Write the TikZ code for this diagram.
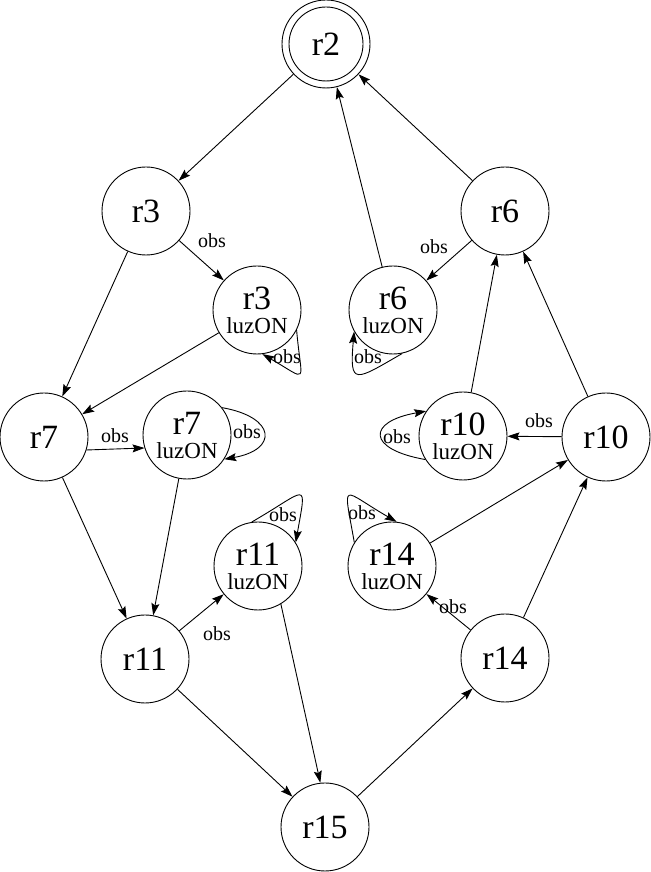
\documentclass[tikz,border=0pt]{standalone}
\usepackage{fontspec}
\setmainfont{Liberation Serif}
\usetikzlibrary{arrows.meta}

\newcommand{\stname}[1]{{\fontsize{34}{34}\selectfont #1}}

\begin{document}
\begin{tikzpicture}[x=1pt, y=1pt, line width=0.9pt,
   state/.style={draw, circle, minimum size=88pt, inner sep=0pt, font=\fontsize{34}{34}\selectfont},
   onstate/.style={draw, circle, minimum size=88pt, inner sep=0pt, align=center, font=\fontsize{23}{24}\selectfont},
   tr/.style={-{Stealth[length=12pt, width=8pt, inset=2pt]}},
   obs/.style={font=\fontsize{20}{20}\selectfont, inner sep=0pt}]
   \useasboundingbox (0,0) rectangle (650,872);

   % plain states
   \node [state] (r2) at (326,828) {r2};
   \draw (r2.center) circle [radius=37pt];
   \node [state] (r3) at (146,661) {r3};
   \node [state] (r6) at (505,661) {r6};
   \node [state] (r7) at (44,435) {r7};
   \node [state] (r10) at (606,435) {r10};
   \node [state] (r11) at (145,213) {r11};
   \node [state] (r14) at (505,214) {r14};
   \node [state] (r15) at (325,45) {r15};

   % states with the light on
   \node [onstate] (r3on) at (257,562) {\stname{r3}\\luzON};
   \node [onstate] (r6on) at (393,562) {\stname{r6}\\luzON};
   \node [onstate] (r7on) at (187,437) {\stname{r7}\\luzON};
   \node [onstate] (r10on) at (463,436) {\stname{r10}\\luzON};
   \node [onstate] (r11on) at (258,306) {\stname{r11}\\luzON};
   \node [onstate] (r14on) at (392,306) {\stname{r14}\\luzON};

   % transitions
   \draw [tr] (r2) -- (r3);
   \draw [tr] (r6) -- (r2);
   \draw [tr] (r6on) -- (r2);
   \draw [tr] (r3) -- (r3on);
   \draw [tr] (r3) -- (r7);
   \draw [tr] (r3on) -- (r7);
   \draw [tr] (r6) -- (r6on);
   \draw [tr] (r7.-17) -- (r7on.-163);
   \draw [tr] (r7) -- (r11);
   \draw [tr] (r7on) -- (r11);
   \draw [tr] (r10) -- (r10on);
   \draw [tr] (r10on) -- (r6);
   \draw [tr] (r10) -- (r6);
   \draw [tr] (r14on) -- (r10);
   \draw [tr] (r14) -- (r10);
   \draw [tr] (r11) -- (r11on);
   \draw [tr] (r14) -- (r14on);
   \draw [tr] (r11on.-59) -- (r15.96);
   \draw [tr] (r11) -- (r15);
   \draw [tr] (r15) -- (r14);

   % self loops
   \draw [tr] (r3on.-27) to[out=-85, in=-30, distance=55pt] (r3on.-83);
   \draw [tr] (r6on.-78) to[out=-150, in=-95, distance=55pt] (r6on.-151);
   \draw [tr] (r7on.38) to[out=-10, in=10, distance=55pt] (r7on.-33);
   \draw [tr] (r10on.-148) to[out=170, in=-170, distance=60pt] (r10on.146);
   \draw [tr] (r11on.98) to[out=30, in=80, distance=65pt] (r11on.32);
   \draw [tr] (r14on.148) to[out=100, in=150, distance=65pt] (r14on.84);

   % labels
   \foreach \x/\y [count=\i] in {212/631, 434/625, 287/515, 368/515, 115/436, 247/440,
                                 397/435, 539/451, 283/357, 362/359, 217/238, 453/265}
      \node [obs] (obs\i) at (\x,\y) {obs};
\end{tikzpicture}
\end{document}
